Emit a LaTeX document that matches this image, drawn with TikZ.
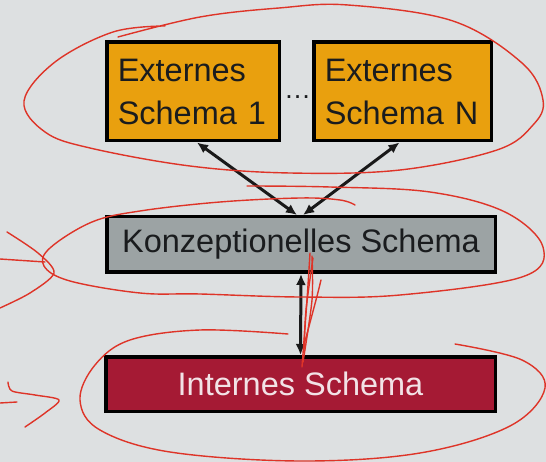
\documentclass[tikz,border=0pt]{standalone}
\usepackage{fontspec}
\setmainfont{Liberation Sans}
\usepackage{xcolor}
\definecolor{slidebg}{RGB}{221,224,225}
\definecolor{extfill}{RGB}{233,160,14}
\definecolor{konzfill}{RGB}{156,163,164}
\definecolor{intfill}{RGB}{165,26,52}
\definecolor{inttext}{RGB}{242,226,230}
\definecolor{textdark}{RGB}{26,28,30}
\definecolor{penred}{RGB}{222,52,40}
\usetikzlibrary{arrows.meta, positioning}
\newcommand{\bigfont}{\fontsize{32.5pt}{43pt}\selectfont}

\begin{document}
\begin{tikzpicture}[x=1pt, y=-1pt,
    schemabox/.style={draw=black, line width=3.5pt, inner xsep=11pt,
      font=\bigfont, text=textdark},
    extbox/.style={schemabox, fill=extfill, align=left,
      minimum height=98.5pt},
    konzbox/.style={schemabox, fill=konzfill, minimum width=388.5pt,
      minimum height=55.5pt},
    intbox/.style={schemabox, fill=intfill, text=inttext,
      minimum width=389.5pt, minimum height=54.5pt},
    link/.style={{Latex[length=11pt,width=10pt]}-{Latex[length=11pt,width=10pt]},
      line width=3pt, black!90},
    pen/.style={penred, line width=1.4pt, line cap=round, line join=round}]
  \useasboundingbox (0,0) rectangle (546,462);
  \fill[slidebg] (0,0) rectangle (546,462);

  % schema levels
  \node[extbox, text width=150.5pt] (ext1) at (193,91.5)
    {Externes\\Schema 1};
  \node[extbox, text width=155.5pt] (extN) at (402.5,91.5)
    {Externes\\Schema N};
  \node[font=\fontsize{27pt}{30pt}\selectfont, text=textdark, anchor=base,
    inner sep=0pt] (dots) at (297.5,98.5) {…};
  \node[konzbox] (konz) at (301,244.5) {Konzeptionelles Schema};
  \node[intbox] (intern) at (300.5,384) {Internes Schema};

  % mappings
  \draw[link] ([xshift=4pt]ext1.south) -- ([xshift=-4pt]konz.north);
  \draw[link] ([xshift=-3pt]extN.south) -- ([xshift=2pt]konz.north);
  \draw[link] (konz.south) -- (intern.north);

  % hand-drawn marks
  \draw[pen] plot[smooth, tension=0.6] coordinates {(165,26) (113,32) (55,62)
    (24,101) (45,132) (90,148) (190,166) (290,173) (400,170) (497,150)
    (533,125) (543,100) (522,63) (453,21) (348,5) (279,8) (200,17) (118,37)};
  \draw[pen] plot[smooth, tension=0.6] coordinates {(247,186) (330,187)
    (430,192) (505,212) (543,247) (522,277) (400,295) (300,297) (200,294)
    (140,293) (70,281) (44,266) (50,248) (92,222) (140,211) (220,202)
    (300,198) (340,200) (355,205)};
  \draw[pen] (0,259) -- (45,262);
  \draw[pen] plot[smooth] coordinates {(7,232) (38,253) (54,273) (30,293) (0,308)};
  \draw[pen] plot[smooth, tension=0.6] coordinates {(288,334) (200,330)
    (130,340) (95,365) (80,400) (100,430) (170,452) (300,461) (420,453)
    (510,426) (545,388) (522,360) (455,344)};
  \draw[pen] (0,403) -- (17,402);
  \draw[pen] plot[smooth] coordinates {(8,382) (12,391) (35,395) (59,400)
    (45,413) (25,427)};
  \draw[pen] plot[smooth] coordinates {(310,253) (307,300) (302,367)};
  \draw[pen] plot[smooth] coordinates {(303,362) (312,300) (312,256)};
  \draw[pen] plot[smooth] coordinates {(313,258) (306,310) (304,350)};
  \draw[pen] plot[smooth] coordinates {(304,345) (316,300) (321,280)};
\end{tikzpicture}
\end{document}
